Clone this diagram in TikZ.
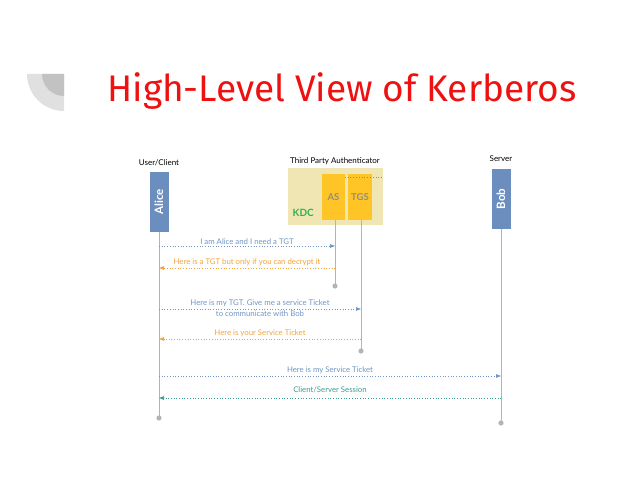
\documentclass[tikz,border=0pt]{standalone}
\usepackage{fontspec}
\setmainfont{Lato}
\newfontfamily\titlefont{Fira Sans}
\usetikzlibrary{arrows.meta}

\definecolor{titlered}{HTML}{EE1111}
\definecolor{actorblue}{HTML}{6C8EBF}
\definecolor{kdctan}{HTML}{F0E6B4}
\definecolor{asyellow}{HTML}{FFC425}
\definecolor{asgray}{HTML}{8E8E80}
\definecolor{kdcgreen}{HTML}{2DB34A}
\definecolor{msgblue}{HTML}{6F95C4}
\definecolor{msgorange}{HTML}{F2A33A}
\definecolor{msgteal}{HTML}{3A9D8F}
\definecolor{lifegray}{HTML}{B4B4B4}
\definecolor{tgsred}{HTML}{E8703A}

\begin{document}
\begin{tikzpicture}[
  x=1pt, y=-1pt,
  every node/.style={font=\fontsize{7.8}{9}\selectfont, inner sep=1.5pt},
  actor/.style={fill=actorblue, minimum width=19pt, minimum height=60pt, inner sep=0pt},
  actortext/.style={rotate=90, text=white, font=\fontsize{11.5}{12}\selectfont\bfseries},
  server/.style={fill=asyellow, minimum width=24pt, minimum height=46pt, inner sep=0pt,
    text=asgray, font=\fontsize{9.5}{10}\selectfont\bfseries},
  life/.style={draw=lifegray, line width=0.8pt},
  msg/.style={dotted, line width=0.7pt, -{Triangle[length=5pt,width=3.5pt]}}
]
\useasboundingbox (0,0) rectangle (638,478);

% corner decoration and title:
\fill [black!12] (64,74) -- (27,74) arc[start angle=180, end angle=90, radius=37] -- cycle;
\fill [black!24] (64,74) -- (42,74) arc[start angle=180, end angle=90, radius=22] -- cycle;
\node [anchor=base, text=titlered, font=\titlefont\fontsize{37}{42}\selectfont] (title) at (342,102) {High-Level View of Kerberos};

% the parties:
\node [font=\fontsize{8}{9}\selectfont] (client) at (159,163) {User/Client};
\node [actor] (alice) at (159,202) {};
\node [actortext] (alicetxt) at (alice) {Alice};

\node [font=\fontsize{8}{9}\selectfont] (tpa) at (335,161) {Third Party Authenticator};
\node [fill=kdctan, minimum width=95pt, minimum height=57pt, inner sep=0pt] (kdc) at (335.5,196.5) {};
\node [server, minimum width=23pt] (as) at (333.5,197) {AS};
\node [server] (tgs) at (360,197) {TGS};
\node [anchor=west, text=kdcgreen, font=\fontsize{10}{11}\selectfont\bfseries] (kdctxt) at (291,213) {KDC};
\draw [dotted, line width=0.8pt, color=tgsred] (tgs.north west) ++(-3,4) coordinate (rd) -- (kdc.east |- rd);

\node [font=\fontsize{8}{9}\selectfont] (srv) at (501,159) {Server};
\node [actor] (bob) at (501,199) {};
\node [actortext] (bobtxt) at (bob) {Bob};

% lifelines, each closed by a dot
\coordinate (aliceend) at (159,418);
\coordinate (asend) at (335,286);
\coordinate (tgsend) at (361,351);
\coordinate (bobend) at (501,423);
\foreach \who in {alice, as, tgs, bob} {
  \draw [life] (\who end |- \who.south) -- (\who end);
  \fill [lifegray] (\who end) circle[radius=2.6];
}

% messages:
\draw [msg, msgblue] (aliceend |- 0,246) -- (asend |- 0,246)
  node [midway, above, text=msgblue] {I am Alice and I need a TGT};
\draw [msg, msgorange] (asend |- 0,268) -- (aliceend |- 0,268)
  node [midway, above, text=msgorange] {Here is a TGT but only if you can decrypt it};
\draw [msg, msgblue] (aliceend |- 0,309) -- (tgsend |- 0,309)
  node [midway, above, text=msgblue] {Here is my TGT. Give me a service Ticket}
  node [midway, below, text=msgblue] {to communicate with Bob};
\draw [msg, msgorange] (tgsend |- 0,339) -- (aliceend |- 0,339)
  node [midway, above, text=msgorange] {Here is your Service Ticket};
\draw [msg, msgblue] (aliceend |- 0,376) -- (bobend |- 0,376)
  node [midway, above, text=msgblue] {Here is my Service Ticket};
\draw [msg, msgteal] (bobend |- 0,398) -- (aliceend |- 0,398)
  node [midway, above=3pt, text=msgteal] {Client/Server Session};

\end{tikzpicture}
\end{document}
